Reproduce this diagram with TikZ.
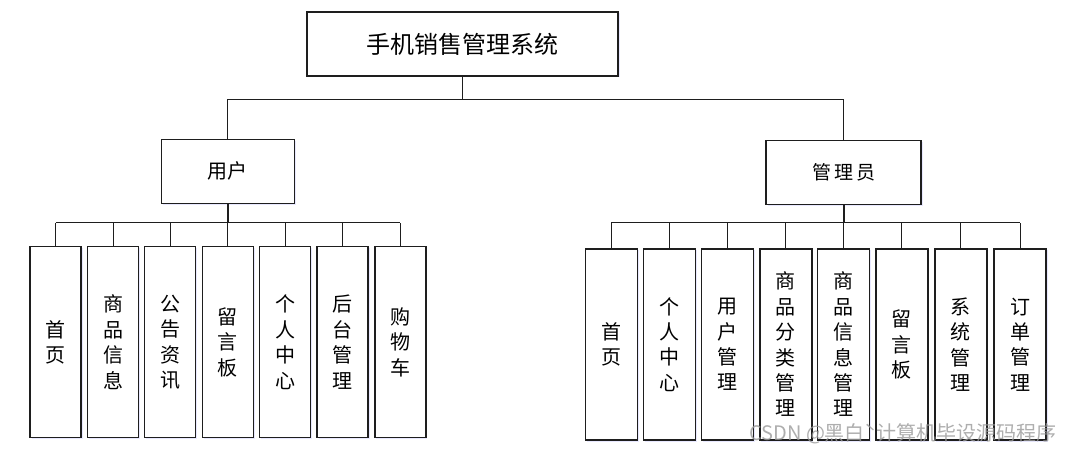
\documentclass[tikz,border=0pt]{standalone}
\usepackage{fontspec}
\newfontfamily\cjk{Noto Sans CJK SC}
\usetikzlibrary{shadows}
\definecolor{edge}{HTML}{1E1E1E}
\definecolor{wm}{HTML}{9A9A9A}
\tikzset{
  box/.style={draw=edge, line width=1.4pt, fill=white, rectangle, inner sep=0pt,
    drop shadow={shadow xshift=1.5pt, shadow yshift=-1.5pt, fill=blue!25, opacity=0.35},
    font=\cjk},
  leafU/.style={box, minimum width=51pt, minimum height=191pt, align=center,
    font=\cjk\fontsize{20}{25.4}\selectfont},
  leafA/.style={box, minimum width=52pt, minimum height=191pt, align=center,
    font=\cjk\fontsize{20}{25.4}\selectfont},
  conn/.style={draw=edge, line width=1pt},
  thick conn/.style={draw=edge, line width=1.9pt},
}
\begin{document}
\begin{tikzpicture}[x=1pt, y=-1pt]
\useasboundingbox (0,0) rectangle (1074,454);
\fill[white] (0,0) rectangle (1074,454);

\node[box, minimum width=311pt, minimum height=64pt, font=\cjk\fontsize{24}{24}\selectfont] (top) at (462.5,44) {手机销售管理系统};
\node[box, minimum width=133pt, minimum height=64pt, font=\cjk\fontsize{20}{20}\selectfont] (user) at (227.8,171.3) {用户};
\node[box, minimum width=155pt, minimum height=64pt, font=\cjk\fontsize{19}{19}\selectfont] (admin) at (843.6,172.3) {管\hspace{3pt}理\hspace{3pt}员};

% user leaves
\node[leafU] (u1) at (55.5,342.2) {首\\页};
\node[leafU] (u2) at (113,342.2) {商\\品\\信\\息};
\node[leafU] (u3) at (170,342.2) {公\\告\\资\\讯};
\node[leafU] (u4) at (227.8,342.2) {留\\言\\板};
\node[leafU] (u5) at (285,342.2) {个\\人\\中\\心};
\node[leafU] (u6) at (342.5,342.2) {后\\台\\管\\理};
\node[leafU] (u7) at (400.3,342.2) {购\\物\\车};

% admin leaves
\node[leafA] (a1) at (611.3,344.5) {首\\页};
\node[leafA] (a2) at (669.4,344.5) {个\\人\\中\\心};
\node[leafA] (a3) at (727.6,344.5) {用\\户\\管\\理};
\node[leafA] (a4) at (785.8,344.5) {商\\品\\分\\类\\管\\理};
\node[leafA] (a5) at (843.6,344.5) {商\\品\\信\\息\\管\\理};
\node[leafA] (a6) at (901.9,344.5) {留\\言\\板};
\node[leafA] (a7) at (960.8,344.5) {系\\统\\管\\理};
\node[leafA] (a8) at (1020,344.5) {订\\单\\管\\理};

% top level connectors
\draw[conn] (top.south) -- (top.south |- 0,99.5);
\draw[conn] (user.north) -- (user.north |- 0,99.5) -- (admin.north |- 0,99.5) -- (admin.north);

% user connectors
\draw[thick conn] (user.south) -- (user.south |- 0,222.7);
\draw[conn] (u1.north |- 0,222.7) -- (u7.north |- 0,222.7);
\foreach \i in {1,...,7} { \draw[conn] (u\i.north) -- (u\i.north |- 0,222.7); }

% admin connectors
\draw[thick conn] (admin.south) -- (admin.south |- 0,222.7);
\draw[conn] (a1.north |- 0,222.7) -- (a8.north |- 0,222.7);
\foreach \i in {1,...,8} { \draw[conn] (a\i.north) -- (a\i.north |- 0,222.7); }

% watermark
\node[anchor=west, inner sep=0pt, text=wm, opacity=0.8, font=\cjk\fontsize{20}{20}\selectfont] (wmk) at (749,434) {CSDN @黑白ˋ计算机毕设源码程序};
\end{tikzpicture}
\end{document}
